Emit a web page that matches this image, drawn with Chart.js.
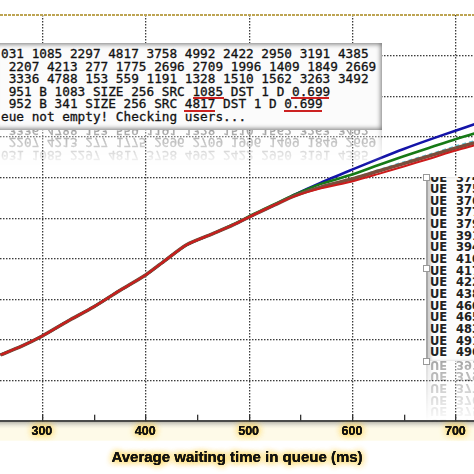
<!DOCTYPE html>
<html>
<head>
<meta charset="utf-8">
<script src="https://cdn.jsdelivr.net/npm/chart.js@4.4.1/dist/chart.umd.min.js"></script>
<style>
  html, body { margin: 0; padding: 0; background: #fff; overflow: hidden; }
  #wrap { position: relative; width: 474px; height: 474px; overflow: hidden; background: #fff; }
  #chart { position: absolute; left: 0; top: 0; }
  .term { position: absolute; left: -6px; top: 43px; width: 388px; height: 87px; background: #fbfbfb;
          box-shadow: inset 0 0 5px 1px rgba(0,0,0,.55); overflow: hidden; }
  .term pre { margin: 0; position: absolute; left: 7px; top: 5px; font: 12.72px/12.6px "DejaVu Sans Mono", monospace;
              color: #111; -webkit-text-stroke: 0.3px #111; }
  .term .ul { position: absolute; height: 2px; background: #cc2222; }
  .refl { position: absolute; overflow: hidden;
          -webkit-mask-image: linear-gradient(to bottom, rgba(0,0,0,.4), rgba(0,0,0,0) 100%);
          mask-image: linear-gradient(to bottom, rgba(0,0,0,.4), rgba(0,0,0,0) 100%); }
  .refl > div { transform: scaleY(-1); }
  .ue { position: absolute; left: 426px; top: 176.5px; width: 60px; height: 184.5px; background: #fcfcfc;
        border-left: 2px solid #a8a8a8; box-shadow: inset 3px 0 3px rgba(0,0,0,.18); overflow: hidden; box-sizing: border-box; }
  .ue .rows { position: absolute; left: 2px; top: -4px; font: bold 11.5px/11.65px "DejaVu Sans", sans-serif; color: #222; white-space: nowrap; }
  .ue .rows span.u { display: inline-block; width: 26px; }
  .handle { position: absolute; width: 5px; height: 5px; background: #fff; border: 1px solid #999; }
</style>
</head>
<body>
<div id="wrap">
  <canvas id="chart" width="474" height="474"></canvas>

  <div class="term">
<pre>031 1085 2297 4817 3758 4992 2422 2950 3191 4385
 2207 4213 277 1775 2696 2709 1996 1409 1849 2669
 3336 4788 153 559 1191 1328 1510 1562 3263 3492
 951 B 1083 SIZE 256 SRC 1085 DST 1 D 0.699
 952 B 341 SIZE 256 SRC 4817 DST 1 D 0.699
eue not empty! Checking users...</pre>
    <div class="ul" style="left:199px; top:54px; width:31px;"></div>
    <div class="ul" style="left:297px; top:54px; width:38px;"></div>
    <div class="ul" style="left:190px; top:67px; width:31px;"></div>
    <div class="ul" style="left:290px; top:67px; width:38px;"></div>
  </div>
  <div class="refl" style="left:-6px; top:130px; width:388px; height:36px;">
    <div class="term" style="left:0; top:-51px;">
<pre>031 1085 2297 4817 3758 4992 2422 2950 3191 4385
 2207 4213 277 1775 2696 2709 1996 1409 1849 2669
 3336 4788 153 559 1191 1328 1510 1562 3263 3492
 951 B 1083 SIZE 256 SRC 1085 DST 1 D 0.699
 952 B 341 SIZE 256 SRC 4817 DST 1 D 0.699
eue not empty! Checking users...</pre>
    </div>
  </div>

  <div class="ue"><div class="rows" id="ueRows"></div></div>
  <div class="refl" style="left:426px; top:361px; width:60px; height:62px;">
    <div class="ue" style="left:0; top:-122.5px;"><div class="rows" id="ueRefl"></div></div>
  </div>
  <div class="handle" style="left:423px; top:173.5px;"></div>
  <div class="handle" style="left:423px; top:265px;"></div>
  <div class="handle" style="left:423px; top:358px;"></div>
</div>

<script>
// x = average waiting time in queue (ms)
const waitMs = [260, 280, 300, 325, 350, 375, 400, 420, 440, 465, 485, 505, 525, 545, 570, 600, 625, 650, 675, 700, 720];

const redLine   = [1.62, 1.83, 2.08, 2.45, 2.80, 3.20, 3.58, 3.96, 4.33, 4.60, 4.82, 5.07, 5.31, 5.53, 5.72, 5.89, 6.07, 6.26, 6.45, 6.65, 6.79];
const brownLine = [1.62, 1.83, 2.08, 2.45, 2.80, 3.20, 3.58, 3.96, 4.33, 4.60, 4.82, 5.07, 5.31, 5.54, 5.75, 5.95, 6.14, 6.33, 6.52, 6.71, 6.85];
const cyanLine  = [1.62, 1.83, 2.08, 2.45, 2.80, 3.20, 3.58, 3.96, 4.33, 4.60, 4.82, 5.07, 5.31, 5.55, 5.77, 5.97, 6.17, 6.37, 6.56, 6.76, 6.90];
const greenLine = [1.62, 1.83, 2.08, 2.45, 2.80, 3.20, 3.58, 3.96, 4.33, 4.60, 4.83, 5.09, 5.33, 5.57, 5.83, 6.06, 6.29, 6.51, 6.72, 6.93, 7.08];
const blueLine  = [1.62, 1.83, 2.08, 2.45, 2.80, 3.20, 3.58, 3.96, 4.33, 4.60, 4.82, 5.07, 5.31, 5.57, 5.86, 6.18, 6.44, 6.69, 6.92, 7.14, 7.31];

const xTicks = [300, 400, 500, 600, 700];
const yGrid = [1, 2, 3, 4, 5, 6, 7, 8, 9];

const termUe = ["3741", "3752", "3768", "3779", "3790", "3912", "3948", "4105", "4173", "4226", "4381", "4607", "4652", "4830", "4915", "4968"];

function rowsHtml(list) {
  return list.map(n => '<div><span class="u">UE</span>' + n + '</div>').join('');
}
document.getElementById('ueRows').innerHTML = rowsHtml(termUe);
document.getElementById('ueRefl').innerHTML = rowsHtml(termUe);

const toPts = arr => arr.map((v, i) => ({ x: waitMs[i], y: v }));

// yellow glow on axis labels + title
const glow = {
  id: 'glow',
  afterUpdate(chart) {
    const sc = chart.scales.x;
    if (sc._glowed) return;
    sc._glowed = true;
    ['drawLabels', 'drawTitle'].forEach(fn => {
      const orig = sc[fn].bind(sc);
      sc[fn] = function (a) {
        const ctx = chart.ctx;
        ctx.save();
        ctx.shadowColor = 'rgba(255,200,30,0.95)';
        ctx.shadowBlur = 7;
        orig(a);
        orig(a);
        ctx.restore();
        orig(a);
      };
    });
  }
};

// dotted grid drawn as little squares (no setLineDash)
function dotsH(ctx, x0, x1, y, len, gap, h) {
  for (let x = x0; x < x1; x += len + gap) ctx.fillRect(x, y, len, h);
}
function dotsV(ctx, y0, y1, x, len, gap, w) {
  for (let y = y0; y < y1; y += len + gap) ctx.fillRect(x, y, w, len);
}

const axisDeco = {
  id: 'axisDeco',
  beforeDraw(chart) {
    const { ctx, chartArea } = chart;
    const g = ctx.createLinearGradient(0, chartArea.bottom, 0, chartArea.bottom + 8);
    g.addColorStop(0, 'rgba(90,90,90,0.55)');
    g.addColorStop(1, 'rgba(200,200,200,0)');
    ctx.save();
    ctx.fillStyle = 'rgba(252,240,190,0.35)';
    ctx.fillRect(0, chartArea.bottom, chart.width, 20);
    ctx.fillStyle = g;
    ctx.fillRect(0, chartArea.bottom, chart.width, 8);
    ctx.restore();
  },
  beforeDatasetsDraw(chart) {
    const { ctx, chartArea } = chart;
    const xs = chart.scales.x, ys = chart.scales.y;
    const top = Math.round(chartArea.top), bottom = Math.round(chartArea.bottom);
    ctx.save();
    ctx.fillStyle = '#3c3c3c';
    xTicks.forEach(v => {
      const px = Math.round(xs.getPixelForValue(v));
      dotsV(ctx, top, bottom, px, 1.5, 1.5, 1.3);
    });
    yGrid.forEach(v => {
      const py = Math.round(ys.getPixelForValue(v));
      dotsH(ctx, chartArea.left, chartArea.right, py, 1.5, 1.5, 1.3);
    });
    // top border, tan
    ctx.fillStyle = '#bda453';
    dotsH(ctx, chartArea.left, chartArea.right, Math.round(ys.getPixelForValue(10)) - 1, 3, 1, 2);
    ctx.restore();
  },
  afterDraw(chart) {
    const { ctx, chartArea } = chart;
    const sc = chart.scales.x;
    ctx.save();
    ctx.fillStyle = '#333';
    sc.ticks.forEach(t => {
      const px = Math.round(sc.getPixelForValue(t.value));
      ctx.fillRect(px, chartArea.bottom - 6, 1.3, 6);
    });
    ctx.restore();
  }
};

new Chart(document.getElementById('chart'), {
  type: 'line',
  data: {
    datasets: [
      { data: toPts(redLine),   borderColor: '#cc1c1c', borderWidth: 2 },
      { data: toPts(brownLine), borderColor: '#7a4e3c', borderWidth: 3.5 },
      { data: toPts(cyanLine),  borderColor: '#5cc6d6', borderWidth: 1.5, borderDash: [4, 3] },
      { data: toPts(greenLine), borderColor: '#167a16', borderWidth: 2.6 },
      { data: toPts(blueLine),  borderColor: '#1414a8', borderWidth: 2.6 }
    ]
  },
  options: {
    responsive: false,
    animation: false,
    layout: { padding: { top: 14.5, left: 0, right: 0, bottom: 3 } },
    elements: { point: { radius: 0 }, line: { tension: 0.25 } },
    plugins: { legend: { display: false }, tooltip: { enabled: false } },
    scales: {
      x: {
        type: 'linear',
        min: 259.5,
        max: 718,
        ticks: {
          stepSize: 50,
          includeBounds: false,
          autoSkip: false,
          maxRotation: 0,
          padding: 3,
          color: '#111',
          font: { family: 'Liberation Sans, Arial, sans-serif', size: 12.5, weight: 'bold', lineHeight: 1.2 },
          callback: v => xTicks.includes(v) ? String(v) : ''
        },
        grid: { display: false, drawTicks: false, tickLength: 0 },
        border: { display: true, color: '#4a4a4a', width: 2 },
        title: {
          display: true,
          text: 'Average waiting time in queue (ms)',
          color: '#111',
          font: { family: 'Liberation Sans, Arial, sans-serif', size: 15, weight: 'bold', lineHeight: 1.2 },
          padding: { top: 7.3, bottom: 4 }
        }
      },
      y: {
        min: 0,
        max: 10,
        ticks: { display: false, stepSize: 1 },
        grid: { display: false, drawTicks: false, tickLength: 0 },
        border: { display: false }
      }
    }
  },
  plugins: [glow, axisDeco]
});
</script>
</body>
</html>
